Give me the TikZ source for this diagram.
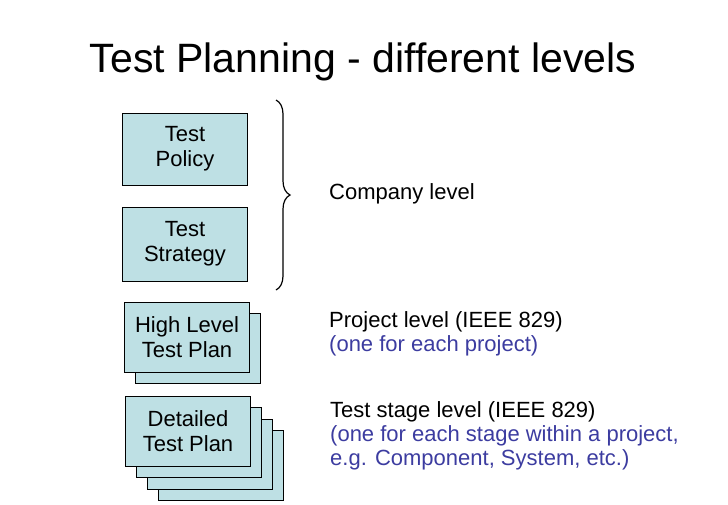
\documentclass[tikz,border=0pt]{standalone}
\usepackage{fontspec}
\setmainfont{Liberation Sans}
\usetikzlibrary{decorations.pathreplacing}
\definecolor{boxfill}{RGB}{190,224,228}
\definecolor{noteblue}{RGB}{60,60,160}
\begin{document}
\begin{tikzpicture}[x=1pt,y=-1pt]
        \tikzstyle{levelbox} = [rectangle, draw=black, fill=boxfill, minimum width=125pt, minimum height=70pt, align=center, font=\fontsize{22}{25}\selectfont, inner sep=0pt];
        \tikzstyle{note} = [anchor=north west, align=left, font=\fontsize{22}{24}\selectfont, inner sep=0pt];
        \useasboundingbox (0,0) rectangle (728,504);

        \node(title) at (363,62) {\fontsize{41}{46}\selectfont Test Planning - different levels};

        \node(policy) [levelbox, minimum height=72pt] at (185,149) {Test\\Policy};
        \node(strategy) [levelbox, minimum height=74pt] at (185,244) {Test\\Strategy};

        % stacked plans
        \node(hlback) [levelbox] at (198,348) {};
        \node(highlevel) [levelbox] at (187,337) {High Level\\Test Plan};

        \node(dt3) [levelbox] at (221,465) {};
        \node(dt2) [levelbox] at (210,454) {};
        \node(dt1) [levelbox] at (199,442) {};
        \node(detailed) [levelbox] at (188,431) {Detailed\\Test Plan};

        \draw[line width=1.2pt, decorate, decoration={brace, amplitude=14pt}] (276,100) -- (276,290);

        \node(company) [note] at (329,183) {Company level};
        \node(project) [note] at (329,311) {Project level (IEEE 829)\\\textcolor{noteblue}{(one for each project)}};
        \node(stage) [note] at (330,401) {Test stage level (IEEE 829)\\\textcolor{noteblue}{(one for each stage within a project,}\\\textcolor{noteblue}{e.g. Component, System, etc.)}};
    \end{tikzpicture}
\end{document}
